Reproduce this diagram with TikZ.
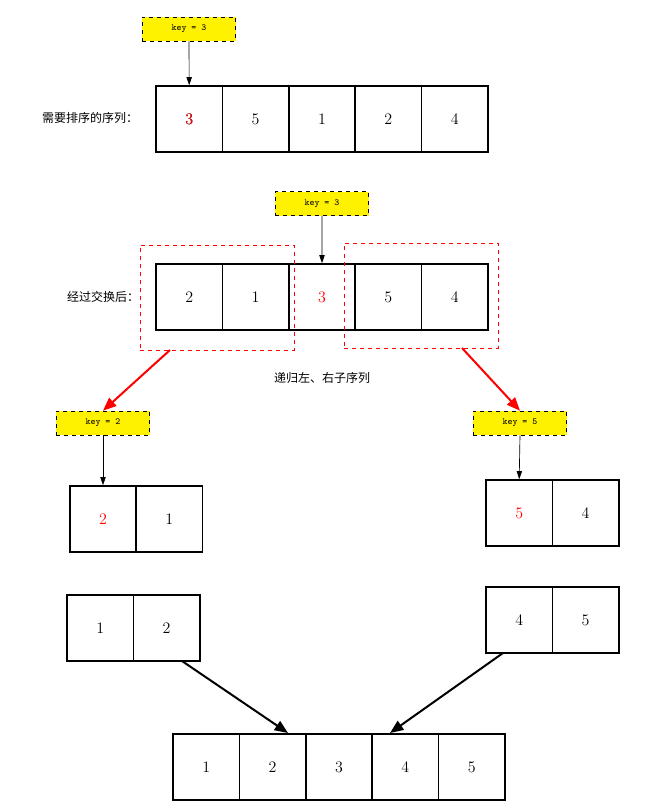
\documentclass[tikz,border=0pt]{standalone}
\usepackage{fontspec}
\newfontfamily\cjk{Noto Sans CJK SC}
\usetikzlibrary{arrows.meta}
\begin{document}
\begin{tikzpicture}[x=0.75pt,y=-0.75pt,
  keybox/.style={draw,dashed,fill=yellow,minimum width=70pt,minimum height=18pt,inner sep=0pt,font=\ttfamily\scriptsize},
  cell/.style={draw,line width=1.2pt,minimum width=49.8pt,minimum height=49.5pt,inner sep=0pt,font=\large},
  thinarr/.style={-{Triangle[length=6pt,width=4pt]},line width=0.5pt},
  redarr/.style={-{Triangle[length=10pt,width=8pt]},red,line width=1.5pt},
  blkarr/.style={-{Triangle[length=10pt,width=8pt]},line width=1.5pt},
  lbl/.style={font=\cjk\small}]
\useasboundingbox (0,0) rectangle (647,810);
% row 1
\node[keybox] (k1) at (189,29) {key = 3};
\foreach \v [count=\i] in {3,5,1,2,4}
  \node[cell] (a\i) at ({156+66.4*(\i-0.5)},119) {\v};
\node[text=red,font=\large] at (a1) {3};
\draw[thinarr] (k1.south) -- (a1.north);
\node[lbl] (l1) at (90,118) {需要排序的序列：};
% row 2
\node[keybox] (k2) at (322,203.5) {key = 3};
\foreach \v [count=\i] in {2,1,3,5,4}
  \node[cell] (b\i) at ({156+66.4*(\i-0.5)},297) {\v};
\node[fill=white,text=red,font=\large,inner sep=1pt] at (b3) {3};
\draw[thinarr] (k2.south) -- (b3.north);
\node[lbl] (l2) at (103,297) {经过交换后：};
\node[draw=red,dashed,minimum width=115.5pt,minimum height=78.75pt] (r1) at (217,297.5) {};
\node[draw=red,dashed,minimum width=115.5pt,minimum height=78.75pt] (r2) at (421,295.5) {};
\node[lbl] (l3) at (322,378) {递归左、右子序列};
\coordinate (r1s) at (170,350);
\coordinate (r2s) at (462,348);
% left sub
\node[keybox] (k3) at (103,423) {key = 2};
\draw[redarr] (r1s) -- (k3.north);
\node[cell] (c1) at (103,519) {};
\node[text=red,font=\large] at (c1) {2};
\node[cell] (c2) at (169.4,519) {1};
\draw[thinarr] (k3.south) -- (c1.north);
% right sub
\node[keybox] (k4) at (520,423) {key = 5};
\draw[redarr] (r2s) -- (k4.north);
\node[cell] (d1) at (519.2,513) {};
\node[text=red,font=\large] at (d1) {5};
\node[cell] (d2) at (585.6,513) {4};
\draw[thinarr] (k4.south) -- (d1.north);
% sorted subs
\node[cell] (e1) at (100.2,628) {1};
\node[cell] (e2) at (166.6,628) {2};
\node[cell] (f1) at (519.2,620) {4};
\node[cell] (f2) at (585.6,620) {5};
% final
\foreach \v [count=\i] in {1,2,3,4,5}
  \node[cell] (g\i) at ({173+66.4*(\i-0.5)},767) {\v};
\coordinate (gl) at (288,733);
\coordinate (gr) at (390,733);
\coordinate (es) at (182,661);
\coordinate (fs) at (503,653);
\draw[blkarr] (es) -- (gl);
\draw[blkarr] (fs) -- (gr);
\end{tikzpicture}
\end{document}
